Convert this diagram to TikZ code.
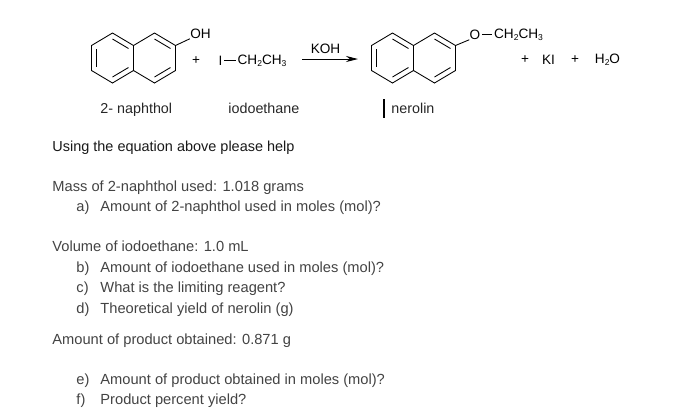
\documentclass[tikz,border=0pt]{standalone}
\usepackage{fontspec}
\setmainfont{Liberation Sans}
\usetikzlibrary{arrows.meta}
\definecolor{bodygray}{HTML}{434343}
\newcommand{\subnum}[1]{\raisebox{-0.3ex}{\fontsize{6.4}{7}\selectfont #1}}
\tikzset{
	chem/.style={font=\fontsize{10.2}{11}\selectfont, inner sep=0pt},
	label/.style={font=\fontsize{10.75}{12}\selectfont, anchor=base west, inner sep=0pt, text=black!85},
	body/.style={font=\fontsize{11}{12}\selectfont, anchor=base west, inner sep=0pt, text=bodygray},
	naphth/.pic={
		\draw (21,-25) -- (0,-12.5) -- (0,12.5) -- (21,25) -- (42,12.5) -- (42,-12.5) -- cycle;
		\draw (42,-12.5) -- (63,-25) -- (84,-12.5) -- (84,12.5) -- (63,25) -- (42,12.5);
		\draw (5,-9) -- (5,9);
		\draw (21,-19) -- (37,-9.5);
		\draw (21,19) -- (37,9.5);
		\draw (63,-19) -- (79,-9.5);
		\draw (63,19) -- (79,9.5);
		\coordinate (-c) at (84,-12.5);
	}
}
\begin{document}
\begin{tikzpicture}[x=0.75pt,y=-0.75pt,line width=0.65pt]
	\useasboundingbox (0,0) rectangle (676,419);
	% reaction
	\pic (left) at (91.5,58) {naphth};
	\pic (right) at (371.5,58) {naphth};
	\node[chem] (oh) at (200.5,33.5) {OH};
	\draw (left-c) -- (oh.south west);
	\node[chem] (plusa) at (196,60.5) {+};
	\node[chem] (iod) at (220.5,60.5) {I};
	\node[chem] (ethyla) at (262,60.5) {CH\subnum{2}CH\subnum{3}};
	\draw (iod.east) ++(1.5,0) coordinate (ia) (ethyla.west) ++(-1.5,0) coordinate (ib);
	\draw (ia) -- (ib);
	\node[chem] (koh) at (325.5,48.5) {KOH};
	\coordinate (arra) at (302,59);
	\coordinate (arrb) at (358,59);
	\draw[-{Stealth[length=9pt,width=4.5pt]}] (arra) -- (arrb);
	\node[chem] (oxy) at (475,34.5) {O};
	\node[chem] (ethylb) at (518.5,34.5) {CH\subnum{2}CH\subnum{3}};
	\draw (right-c) -- (oxy.south west);
	\draw (oxy) ++(7,0) coordinate (oa) (ethylb.west) ++(-1.5,0) coordinate (ob);
	\draw (oa) -- (ob);
	\node[chem] (plusb) at (525,60) {+};
	\node[chem] (ki) at (548.5,60) {KI};
	\node[chem] (plusc) at (575,60) {+};
	\node[chem] (water) at (607.5,60) {H\subnum{2}O};
	% names
	\node[label] (naphthol) at (100,113) {2- naphthol};
	\node[label] (iodo) at (228,113) {iodoethane};
	\node[label] (nerolin) at (391,113) {nerolin};
	\coordinate (bara) at (384,99);
	\coordinate (barb) at (384,118);
	\draw[line width=1pt] (bara) -- (barb);
	% questions
	\node[body,text=black!90,font=\fontsize{10.85}{12}\selectfont] (using) at (52,151.5) {Using the equation above please help};
	\node[body] (mass) at (52,191) {Mass of 2-naphthol used: 1.018 grams};
	\node[body] (qa) at (76,211) {a)};
	\node[body] (ta) at (100,211) {Amount of 2-naphthol used in moles (mol)?};
	\node[body] (vol) at (52,251.5) {Volume of iodoethane: 1.0 mL};
	\node[body] (qb) at (76,272) {b)};
	\node[body] (tb) at (100,272) {Amount of iodoethane used in moles (mol)?};
	\node[body] (qc) at (76,292) {c)};
	\node[body] (tc) at (100,292) {What is the limiting reagent?};
	\node[body] (qd) at (76,313) {d)};
	\node[body] (td) at (100,313) {Theoretical yield of nerolin (g)};
	\node[body] (amount) at (52,344) {Amount of product obtained: 0.871 g};
	\node[body] (qe) at (76,384) {e)};
	\node[body] (te) at (100,384) {Amount of product obtained in moles (mol)?};
	\node[body] (qf) at (76,404) {f)};
	\node[body] (tf) at (100,404) {Product percent yield?};
\end{tikzpicture}
\end{document}
